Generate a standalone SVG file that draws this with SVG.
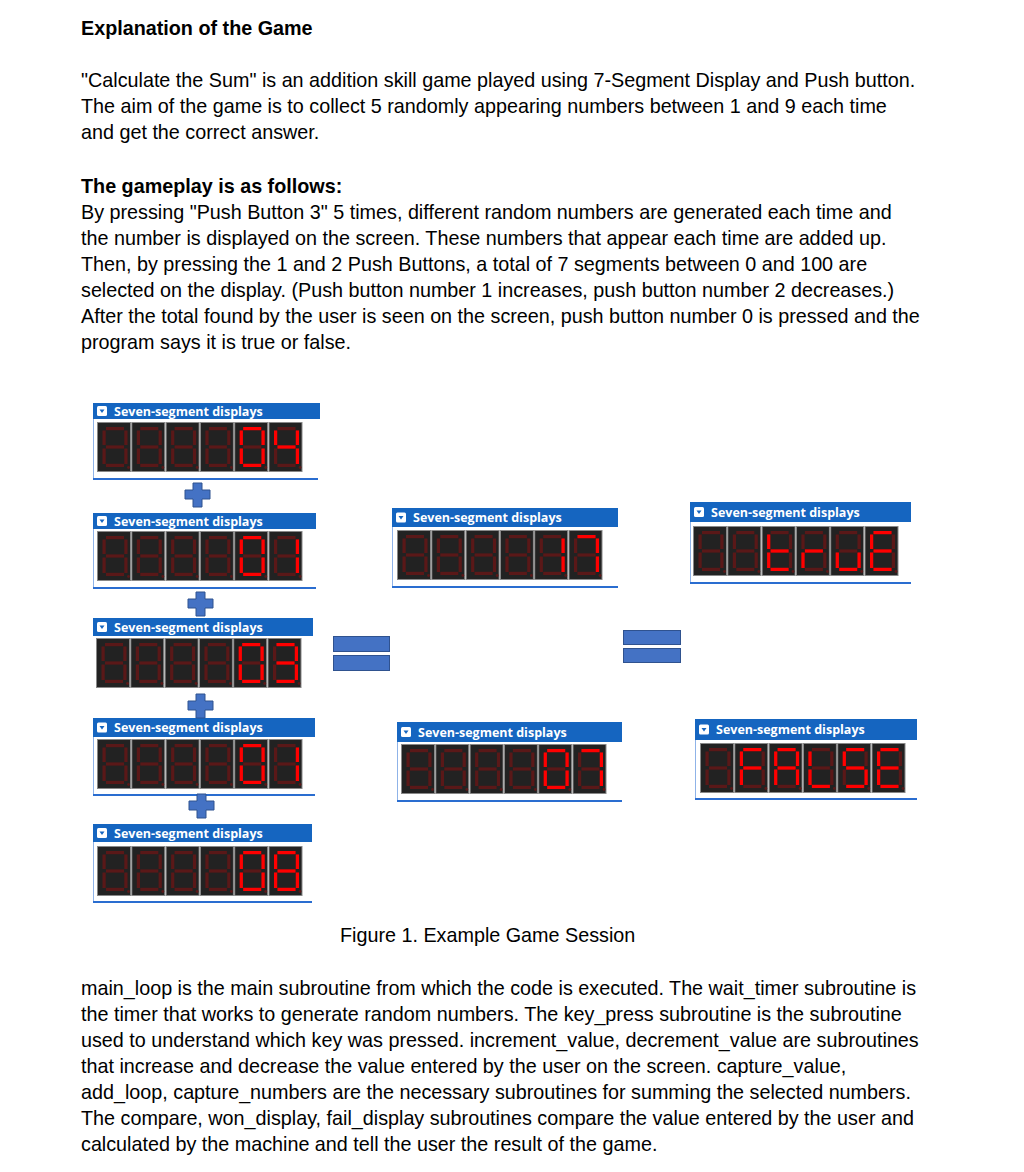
<svg xmlns="http://www.w3.org/2000/svg" xmlns:xlink="http://www.w3.org/1999/xlink" width="1024" height="1172" viewBox="0 0 1024 1172">
<style>
.t{font-family:"Liberation Sans",Arial,sans-serif;font-size:19.75px;fill:#000}
.b{font-weight:bold}
.hd{fill:#1565c0}
.ht{font-family:"Open Sans","Noto Sans",sans-serif;font-weight:bold;font-size:12.5px;fill:#fff}
.bl{stroke:#8fb3e8;stroke-width:1;fill:none}
.bb{stroke:#2a6dd0;stroke-width:2;fill:none}
.pl{fill:#4472c4;stroke:#2f528f;stroke-width:1}
.on{fill:#ff0000}
</style>
<defs>
<rect id="sa" x="9" y="5" width="18" height="3.2"/>
<rect id="sb" x="27.3" y="8.5" width="3.2" height="14.5"/>
<rect id="sc" x="27.3" y="26.5" width="3.2" height="15.5"/>
<rect id="sd" x="9" y="41.8" width="18" height="3.2"/>
<rect id="se" x="5.5" y="26.5" width="3.2" height="15.5"/>
<rect id="sf" x="5.5" y="8.5" width="3.2" height="14.5"/>
<rect id="sg" x="9" y="23.4" width="18" height="3.2"/>
<g id="cell">
<rect x="0.5" y="0.5" width="33" height="49" fill="#222" stroke="#888" stroke-width="1"/>
<g fill="#5a1818">
<use xlink:href="#sa"/><use xlink:href="#sb"/><use xlink:href="#sc"/><use xlink:href="#sd"/><use xlink:href="#se"/><use xlink:href="#sf"/><use xlink:href="#sg"/>
<circle cx="31.5" cy="45.5" r="1.4"/>
</g>
</g>
<g id="row">
<use xlink:href="#cell" x="0"/><use xlink:href="#cell" x="34.3"/><use xlink:href="#cell" x="68.6"/><use xlink:href="#cell" x="102.9"/><use xlink:href="#cell" x="137.2"/><use xlink:href="#cell" x="171.5"/>
</g>
<g id="icon">
<rect x="0" y="0" width="10" height="10" rx="1.5" fill="#fff"/>
<path d="M2.5 3.5 L7.5 3.5 L5 7 Z" fill="#1565c0"/>
</g>
<g id="d0" class="on"><use xlink:href="#sa"/><use xlink:href="#sb"/><use xlink:href="#sc"/><use xlink:href="#sd"/><use xlink:href="#se"/><use xlink:href="#sf"/></g>
<g id="d1" class="on"><use xlink:href="#sb"/><use xlink:href="#sc"/></g>
<g id="d3" class="on"><use xlink:href="#sa"/><use xlink:href="#sb"/><use xlink:href="#sc"/><use xlink:href="#sd"/><use xlink:href="#sg"/></g>
<g id="d4" class="on"><use xlink:href="#sf"/><use xlink:href="#sg"/><use xlink:href="#sb"/><use xlink:href="#sc"/></g>
<g id="d7" class="on"><use xlink:href="#sa"/><use xlink:href="#sb"/><use xlink:href="#sc"/></g>
<g id="d8" class="on"><use xlink:href="#sa"/><use xlink:href="#sb"/><use xlink:href="#sc"/><use xlink:href="#sd"/><use xlink:href="#se"/><use xlink:href="#sf"/><use xlink:href="#sg"/></g>
<g id="lt" class="on"><use xlink:href="#sf"/><use xlink:href="#se"/><use xlink:href="#sd"/><use xlink:href="#sg"/></g>
<g id="lr" class="on"><use xlink:href="#se"/><use xlink:href="#sg"/></g>
<g id="lu" class="on"><use xlink:href="#se"/><use xlink:href="#sd"/><use xlink:href="#sc"/></g>
<g id="lE" class="on"><use xlink:href="#sa"/><use xlink:href="#sf"/><use xlink:href="#sg"/><use xlink:href="#se"/><use xlink:href="#sd"/></g>
<g id="lF" class="on"><use xlink:href="#sa"/><use xlink:href="#sf"/><use xlink:href="#sg"/><use xlink:href="#se"/></g>
<g id="lA" class="on"><use xlink:href="#sa"/><use xlink:href="#sb"/><use xlink:href="#sc"/><use xlink:href="#se"/><use xlink:href="#sf"/><use xlink:href="#sg"/></g>
<g id="lL" class="on"><use xlink:href="#sf"/><use xlink:href="#se"/><use xlink:href="#sd"/></g>
<g id="lS" class="on"><use xlink:href="#sa"/><use xlink:href="#sf"/><use xlink:href="#sg"/><use xlink:href="#sc"/><use xlink:href="#sd"/></g>
</defs>
<rect width="1024" height="1172" fill="#fff"/>

<g id="text-top">
<text class="t b" x="81" y="35">Explanation of the Game</text>
<text class="t" x="81" y="87">"Calculate the Sum" is an addition skill game played using 7-Segment Display and Push button.</text>
<text class="t" x="81" y="113">The aim of the game is to collect 5 randomly appearing numbers between 1 and 9 each time</text>
<text class="t" x="81" y="139">and get the correct answer.</text>
<text class="t b" x="81" y="193">The gameplay is as follows:</text>
<text class="t" x="81" y="219">By pressing "Push Button 3" 5 times, different random numbers are generated each time and</text>
<text class="t" x="81" y="245">the number is displayed on the screen. These numbers that appear each time are added up.</text>
<text class="t" x="81" y="271">Then, by pressing the 1 and 2 Push Buttons, a total of 7 segments between 0 and 100 are</text>
<text class="t" x="81" y="297">selected on the display. (Push button number 1 increases, push button number 2 decreases.)</text>
<text class="t" x="81" y="323">After the total found by the user is seen on the screen, push button number 0 is pressed and the</text>
<text class="t" x="81" y="349">program says it is true or false.</text>
</g>

<g id="w1" transform="translate(93,403)">
<rect class="hd" x="0" y="0" width="227" height="16"/>
<use xlink:href="#icon" x="4" y="3"/>
<text class="ht" x="21" y="12.5">Seven-segment displays</text>
<path class="bl" d="M0.5 16 V76"/>
<path class="bb" d="M0 76 H225"/>
<g transform="translate(4,19)"><use xlink:href="#row"/><use xlink:href="#d0" x="137.2"/><use xlink:href="#d4" x="171.5"/></g>
</g>
<g id="w2" transform="translate(93,513)">
<rect class="hd" x="0" y="0" width="223" height="16"/>
<use xlink:href="#icon" x="4" y="3"/>
<text class="ht" x="21" y="12.5">Seven-segment displays</text>
<path class="bl" d="M0.5 16 V75"/>
<path class="bb" d="M0 75 H223"/>
<g transform="translate(4,18)"><use xlink:href="#row"/><use xlink:href="#d0" x="137.2"/><use xlink:href="#d1" x="171.5"/></g>
</g>
<g id="w3" transform="translate(93,618)">
<rect class="hd" x="0" y="0" width="220" height="18"/>
<use xlink:href="#icon" x="4" y="4"/>
<text class="ht" x="21" y="13.5">Seven-segment displays</text>
<g transform="translate(3,20)"><use xlink:href="#row"/><use xlink:href="#d0" x="137.2"/><use xlink:href="#d3" x="171.5"/></g>
</g>
<g id="w4" transform="translate(93,718)">
<rect class="hd" x="0" y="0" width="222" height="19"/>
<use xlink:href="#icon" x="4" y="4.5"/>
<text class="ht" x="21" y="14">Seven-segment displays</text>
<path class="bl" d="M0.5 19 V77"/>
<path class="bb" d="M0 77 H222"/>
<g transform="translate(4,21)"><use xlink:href="#row"/><use xlink:href="#d0" x="137.2"/><use xlink:href="#d1" x="171.5"/></g>
</g>
<g id="w5" transform="translate(93,824)">
<rect class="hd" x="0" y="0" width="219" height="18"/>
<use xlink:href="#icon" x="4" y="4"/>
<text class="ht" x="21" y="13.5">Seven-segment displays</text>
<path class="bl" d="M0.5 18 V78"/>
<path class="bb" d="M0 78 H219"/>
<g transform="translate(4,22)"><use xlink:href="#row"/><use xlink:href="#d0" x="137.2"/><use xlink:href="#d8" x="171.5"/></g>
</g>
<g id="w6" transform="translate(392,508)">
<rect class="hd" x="0" y="0" width="226" height="19"/>
<use xlink:href="#icon" x="4" y="4.5"/>
<text class="ht" x="21" y="14">Seven-segment displays</text>
<path class="bl" d="M0.5 19 V79"/>
<path class="bb" d="M0 79 H226"/>
<g transform="translate(5,22)"><use xlink:href="#row"/><use xlink:href="#d1" x="137.2"/><use xlink:href="#d7" x="171.5"/></g>
</g>
<g id="w7" transform="translate(690,502)">
<rect class="hd" x="0" y="0" width="221" height="20"/>
<use xlink:href="#icon" x="4" y="5"/>
<text class="ht" x="21" y="14.5">Seven-segment displays</text>
<path class="bl" d="M0.5 20 V81"/>
<path class="bb" d="M0 81 H221"/>
<g transform="translate(3,24)"><use xlink:href="#row"/><use xlink:href="#lt" x="68.6"/><use xlink:href="#lr" x="102.9"/><use xlink:href="#lu" x="137.2"/><use xlink:href="#lE" x="171.5"/></g>
</g>
<g id="w8" transform="translate(397,722)">
<rect class="hd" x="0" y="0" width="225" height="20"/>
<use xlink:href="#icon" x="4" y="5"/>
<text class="ht" x="21" y="14.5">Seven-segment displays</text>
<path class="bl" d="M0.5 20 V79"/>
<path class="bb" d="M0 79 H225"/>
<g transform="translate(4,22)"><use xlink:href="#row"/><use xlink:href="#d0" x="137.2"/><use xlink:href="#d7" x="171.5"/></g>
</g>
<g id="w9" transform="translate(695,719)">
<rect class="hd" x="0" y="0" width="222" height="21"/>
<use xlink:href="#icon" x="4" y="5.5"/>
<text class="ht" x="21" y="15">Seven-segment displays</text>
<path class="bl" d="M0.5 21 V80"/>
<path class="bb" d="M0 80 H222"/>
<g transform="translate(5,24)"><use xlink:href="#row"/><use xlink:href="#lF" x="34.3"/><use xlink:href="#lA" x="68.6"/><use xlink:href="#lL" x="102.9"/><use xlink:href="#lS" x="137.2"/><use xlink:href="#lE" x="171.5"/></g>
</g>

<g id="operators">
<path class="pl" d="M193 483 h9 v7 h8 v9 h-8 v8 h-9 v-8 h-8 v-9 h8 z"/>
<path class="pl" d="M196 592 h9 v7 h8 v9 h-8 v8 h-9 v-8 h-8 v-9 h8 z"/>
<path class="pl" d="M196 694 h9 v7 h8 v9 h-8 v8 h-9 v-8 h-8 v-9 h8 z"/>
<path class="pl" d="M197 794 h9 v7 h8 v9 h-8 v8 h-9 v-8 h-8 v-9 h8 z"/>
<rect class="pl" x="333.5" y="636.5" width="56" height="15"/>
<rect class="pl" x="333.5" y="655.5" width="56" height="15"/>
<rect class="pl" x="623.5" y="630.5" width="57" height="14"/>
<rect class="pl" x="623.5" y="648.5" width="57" height="14"/>
</g>

<g id="text-bottom">
<text class="t" x="340" y="942">Figure 1. Example Game Session</text>
<text class="t" x="81" y="995">main_loop is the main subroutine from which the code is executed. The wait_timer subroutine is</text>
<text class="t" x="81" y="1021">the timer that works to generate random numbers. The key_press subroutine is the subroutine</text>
<text class="t" x="81" y="1047">used to understand which key was pressed. increment_value, decrement_value are subroutines</text>
<text class="t" x="81" y="1073">that increase and decrease the value entered by the user on the screen. capture_value,</text>
<text class="t" x="81" y="1099">add_loop, capture_numbers are the necessary subroutines for summing the selected numbers.</text>
<text class="t" x="81" y="1125">The compare, won_display, fail_display subroutines compare the value entered by the user and</text>
<text class="t" x="81" y="1151">calculated by the machine and tell the user the result of the game.</text>
</g>
</svg>
